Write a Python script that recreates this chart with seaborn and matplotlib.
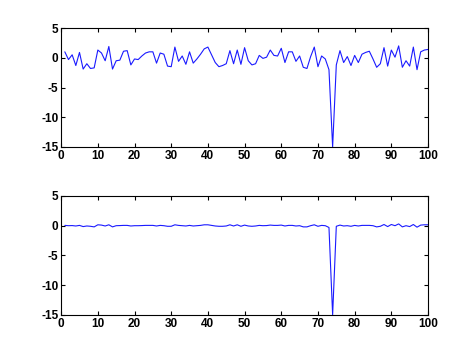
import numpy as np
import pandas as pd
import matplotlib
matplotlib.use("Agg")
import matplotlib.pyplot as plt
import seaborn as sns

x_values = list(range(1, 101))
top_series = [
    1.0, -0.3, 0.5, -1.3, 0.9, -1.9, -1.0, -1.8, -1.7, 1.3,
    0.8, -0.5, 1.9, -1.9, -0.5, -0.4, 1.1, 1.2, -1.2, -0.2,
    -0.3, 0.3, 0.8, 1.0, 1.0, -0.9, 0.8, 0.6, -1.4, -1.5,
    1.8, -0.6, 0.3, -1.1, 1.0, -0.9, -0.2, 0.6, 1.5, 1.8,
    0.5, -0.8, -1.5, -1.3, -1.0, 1.2, -1.0, 1.3, -1.1, 1.7,
    -0.5, -1.2, -1.0, 0.4, -0.1, 0.1, 1.3, 0.4, 0.3, 1.6,
    -0.8, 1.0, 1.0, -0.6, 0.3, -1.6, -1.8, 0.2, 1.8, -1.5,
    0.3, -0.2, -2.0, -15.0, -1.2, 1.2, -0.8, 0.2, -1.3, 0.4,
    -0.8, 0.6, 0.9, 1.1, -0.2, -1.6, -1.0, 1.7, -1.4, 1.3,
    0.1, 2.0, -1.6, -0.5, -1.4, 1.8, -2.0, 1.0, 1.3, 1.4,
]
bottom_series = [
    0.05, 0.0, 0.02, -0.05, 0.05, -0.15, -0.05, -0.1, -0.2, 0.15,
    0.1, -0.05, 0.15, -0.2, 0.0, 0.02, 0.05, 0.05, -0.05, 0.0,
    0.0, 0.02, 0.05, 0.05, 0.05, -0.05, 0.05, 0.0, -0.1, -0.1,
    0.15, 0.05, 0.0, -0.05, 0.05, -0.05, 0.0, 0.05, 0.15, 0.15,
    0.05, -0.05, -0.1, -0.1, -0.05, 0.15, -0.05, 0.15, -0.1, 0.1,
    -0.05, -0.1, -0.05, 0.05, 0.0, 0.02, 0.1, 0.05, 0.05, 0.1,
    -0.05, 0.05, 0.05, -0.05, 0.0, -0.2, -0.2, 0.0, 0.15, -0.1,
    0.05, 0.0, -0.3, -15.0, -0.1, 0.1, -0.05, 0.0, -0.1, 0.05,
    -0.05, 0.05, 0.05, 0.05, 0.0, -0.2, -0.1, 0.2, -0.15, 0.2,
    0.0, 0.3, -0.2, 0.0, -0.15, 0.2, -0.25, 0.1, 0.15, 0.15,
]
x_ticks = [0, 10, 20, 30, 40, 50, 60, 70, 80, 90, 100]
y_ticks = [-15, -10, -5, 0, 5]

sns.set_style("white")
plt.rcParams["font.family"] = ["Liberation Sans", "DejaVu Sans"]

fig = plt.figure(figsize=(4.74, 3.55), dpi=100)
ax1 = fig.add_axes([0.129, 0.586, 0.774, 0.335])
ax2 = fig.add_axes([0.129, 0.113, 0.774, 0.335])

df = pd.DataFrame({"x": x_values, "top": top_series, "bottom": bottom_series})

for ax, col in ((ax1, "top"), (ax2, "bottom")):
    sns.lineplot(data=df, x="x", y=col, ax=ax, color=(0.1, 0.1, 1.0), linewidth=0.8)
    ax.set_xlim(0, 100)
    ax.set_ylim(-15, 5)
    ax.set_xticks(x_ticks)
    ax.set_yticks(y_ticks)
    ax.set_xticklabels([str(t) for t in x_ticks], fontsize=8.5, fontweight="bold")
    ax.set_yticklabels([str(t) for t in y_ticks], fontsize=8.5, fontweight="bold")
    ax.set_xlabel("")
    ax.set_ylabel("")
    ax.tick_params(direction="in", length=3, width=0.8, top=True, right=True,
                   bottom=True, left=True, pad=2, colors="black")
    for s in ax.spines.values():
        s.set_visible(True)
        s.set_color("black")
        s.set_linewidth(0.8)

fig.savefig("out.png", dpi=100, facecolor="white")
